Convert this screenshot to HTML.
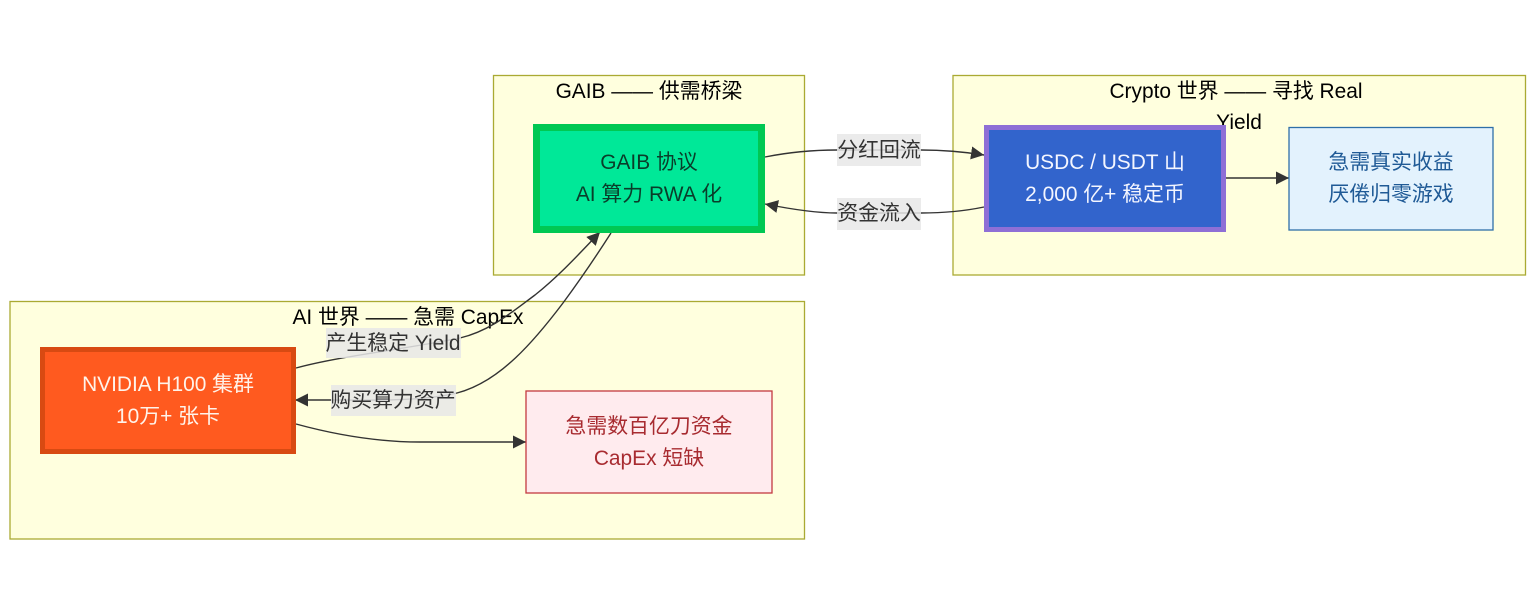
<!DOCTYPE html>
<html><head><meta charset="utf-8"><style>
html,body{margin:0;padding:0;background:#fff;width:1536px;height:614px;overflow:hidden}
svg{display:block;filter:blur(.35px)}
text{font-family:"Liberation Sans","Noto Sans CJK SC",sans-serif;font-size:20.9px;text-anchor:middle}
.c{fill:#ffffde;stroke:#aaaa33;stroke-width:1.3}
.e{fill:none;stroke:#333;stroke-width:1.4}
.l{fill:#e8e8e8;fill-opacity:.85}
.t{fill:#333}
</style></head><body>
<svg width="1536" height="614" viewBox="0 0 1536 614" xmlns="http://www.w3.org/2000/svg">
<defs><marker id="a" markerUnits="userSpaceOnUse" markerWidth="15" markerHeight="14" refX="13" refY="6.5" orient="auto"><path d="M0,0L13,6.5L0,13Z" fill="#333"/></marker></defs>
<rect class="c" x="493.5" y="75.5" width="311" height="199.5"/>
<rect class="c" x="953" y="75.5" width="572.5" height="199.5"/>
<rect class="c" x="10" y="301.5" width="794.5" height="237.5"/>
<text x="649" y="98">GAIB —— 供需桥梁</text>
<text x="1236" y="98">Crypto 世界 —— 寻找 Real</text>
<text x="1239" y="129">Yield</text>
<text x="408" y="324">AI 世界 —— 急需 CapEx</text>
<path class="e" marker-end="url(#a)" d="M765,157C790,152 815,150 837,150L921,150C945,150 965,152 984,155"/>
<path class="e" marker-end="url(#a)" d="M984,207C960,212 940,213 921,213L837,213C815,213 790,209 765,204"/>
<path class="e" marker-end="url(#a)" d="M296,368C340,356 400,350 460,338C490,331 512,312 535,295C560,275 580,253 600,232"/>
<path class="e" marker-end="url(#a)" d="M611,233C595,258 580,280 563,303C535,340 500,382 457,393C420,402 360,400 330,400L295,400"/>
<path class="e" marker-end="url(#a)" d="M296,424C340,436 380,442 420,442L526,442"/>
<path class="e" marker-end="url(#a)" d="M1226,178L1289,178"/>
<rect x="536.5" y="127.5" width="225" height="102" fill="#00e898" stroke="#00c853" stroke-width="7"/>
<text x="649" y="169" fill="#0a3d2a">GAIB 协议</text>
<text x="649" y="201" fill="#0a3d2a">AI 算力 RWA 化</text>
<rect x="986.5" y="127.5" width="237" height="102" fill="#3264cc" stroke="#8e6fd6" stroke-width="5"/>
<text x="1105" y="169" fill="#f4f6ff">USDC / USDT 山</text>
<text x="1105" y="201" fill="#f4f6ff">2,000 亿+ 稳定币</text>
<rect x="1289" y="127.5" width="204" height="102.5" fill="#e3f2fd" stroke="#2f6fa8" stroke-width="1.3"/>
<text x="1391" y="169" fill="#1f5a96">急需真实收益</text>
<text x="1391" y="201" fill="#1f5a96">厌倦归零游戏</text>
<rect x="42.5" y="349.5" width="251" height="102" fill="#ff5a1f" stroke="#d84a12" stroke-width="5"/>
<text x="168" y="391" fill="#fff3ea">NVIDIA H100 集群</text>
<text x="168" y="423" fill="#fff3ea">10万+ 张卡</text>
<rect x="526" y="391" width="246" height="102" fill="#ffebee" stroke="#c23a40" stroke-width="1.3"/>
<text x="649" y="433" fill="#a82b30">急需数百亿刀资金</text>
<text x="649" y="465" fill="#a82b30">CapEx 短缺</text>
<rect class="l" x="837" y="134" width="84" height="32"/>
<text class="t" x="879" y="157">分红回流</text>
<rect class="l" x="837" y="198" width="84" height="32"/>
<text class="t" x="879" y="220">资金流入</text>
<rect class="l" x="326" y="328" width="135" height="30"/>
<text class="t" x="393" y="350">产生稳定 Yield</text>
<rect class="l" x="331" y="385" width="125" height="31"/>
<text class="t" x="393" y="407">购买算力资产</text>
</svg>
</body></html>
